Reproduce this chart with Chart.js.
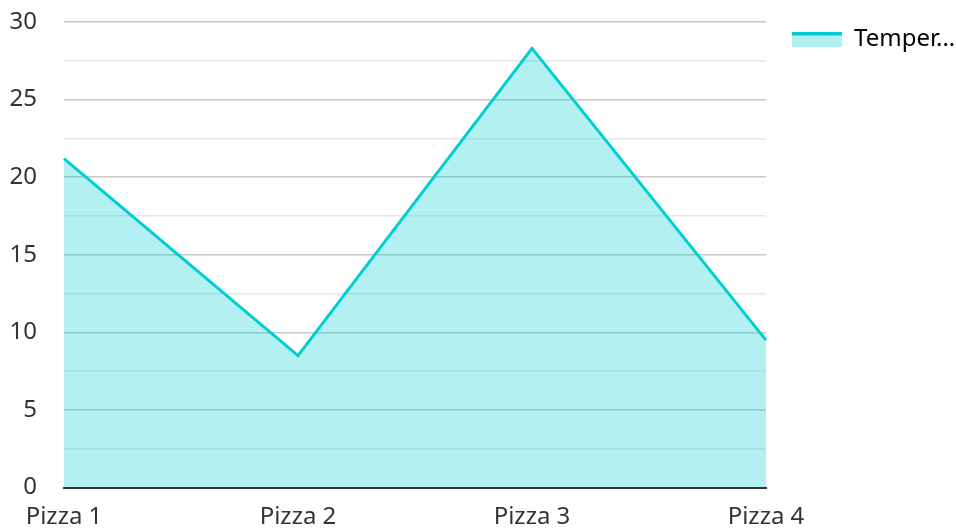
<!DOCTYPE html>
<html>
<head>
<meta charset="utf-8">
<script src="https://cdn.jsdelivr.net/npm/chart.js@4/dist/chart.umd.min.js"></script>
<style>
  html, body { margin: 0; padding: 0; background: #fff; }
  #wrap { width: 956px; height: 529px; }
</style>
</head>
<body>
<div id="wrap"><canvas id="chart" width="956" height="529"></canvas></div>
<script>
'use strict';

const labels = ['Pizza 1', 'Pizza 2', 'Pizza 3', 'Pizza 4'];
const temperature = [21.2, 8.5, 28.3, 9.5];
const seriesName = 'Temperature';

const lineColor = '#00CED1';
const fillColor = 'rgba(0, 206, 209, 0.3)';
const font = { family: 'Noto Sans', size: 24 };

// legend swatch: thick line on top, fill below
const swatch = document.createElement('canvas');
swatch.width = 50;
swatch.height = 15;
const sctx = swatch.getContext('2d');
sctx.fillStyle = fillColor;
sctx.fillRect(0, 0, 50, 15);
sctx.fillStyle = lineColor;
sctx.fillRect(0, 0, 50, 4);

const ctx = document.querySelector('#chart');

const chart = new Chart(ctx, {
  type: 'line',
  data: {
    labels: labels,
    datasets: [{
      label: seriesName,
      data: temperature,
      borderColor: lineColor,
      backgroundColor: fillColor,
      borderWidth: 3,
      fill: 'origin',
      tension: 0,
      pointRadius: 0,
    }],
  },
  options: {
    responsive: false,
    animation: false,
    layout: { padding: { top: 1, left: 0, right: 0, bottom: 0 } },
    plugins: {
      tooltip: { enabled: false },
      legend: {
        position: 'right',
        align: 'start',
        labels: {
          usePointStyle: true,
          pointStyleWidth: 50,
          padding: 26,
          color: '#333',
          font: font,
          generateLabels: (chart) => {
            const ds = chart.data.datasets[0];
            return [{
              text: ds.label.slice(0, 6) + '...',
              pointStyle: swatch,
              fillStyle: fillColor,
              strokeStyle: lineColor,
              lineWidth: 0,
              datasetIndex: 0,
              hidden: false,
            }];
          },
        },
      },
    },
    scales: {
      x: {
        offset: false,
        afterFit: (scale) => { scale.height = 41; },
        grid: { display: false, drawTicks: false },
        border: { display: true, color: '#333', width: 2 },
        ticks: {
          color: '#333',
          padding: 15,
          maxRotation: 0,
          font: font,
        },
      },
      y: {
        min: 0,
        max: 30,
        afterFit: (scale) => {
          scale.width = 64;
          scale.paddingTop = 22;
        },
        border: { display: false },
        grid: {
          drawTicks: false,
          color: (c) => (c.tick && c.tick.value % 5 === 0 ? '#c8c8c8' : '#e6e6e6'),
          lineWidth: 1.5,
        },
        ticks: {
          stepSize: 2.5,
          color: '#333',
          padding: 27,
          autoSkip: false,
          font: font,
          callback: (v) => (v % 5 === 0 ? v : ''),
        },
      },
    },
  },
});

// keep the legend column at a fixed width like the original
const legendFit = chart.legend.fit;
chart.legend.fit = function () {
  legendFit.call(this);
  this.width = 190;
};
chart.update();
</script>
</body>
</html>
